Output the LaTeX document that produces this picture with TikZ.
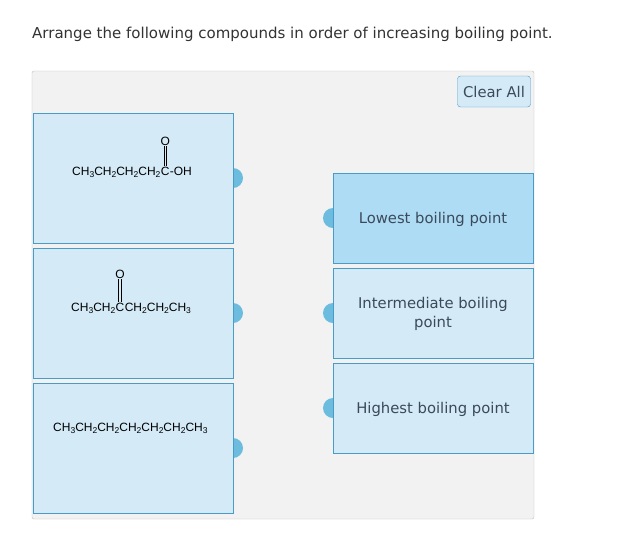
\documentclass[tikz,border=0pt]{standalone}
\usepackage{fontspec}
\setmainfont{DejaVu Sans}
\newfontfamily\chemf{Liberation Sans}
\newcommand{\sbs}[1]{\raisebox{-0.35ex}{\fontsize{8.5}{8.5}\selectfont #1}}
\definecolor{txt}{HTML}{333333}
\definecolor{boxfill}{HTML}{D4EAF7}
\definecolor{boxfillB}{HTML}{AEDCF5}
\definecolor{boxdraw}{HTML}{4A9CC8}
\definecolor{tabc}{HTML}{6CBCE0}
\definecolor{labc}{HTML}{3B4A5A}
\begin{document}
\begin{tikzpicture}[x=1pt,y=-1pt,
  card/.style={draw=boxdraw,fill=boxfill,line width=0.8pt},
  tab/.style={fill=tabc},
  lab/.style={font=\fontsize{14.8}{19}\selectfont,text=labc,align=center},
  chem/.style={font=\chemf\fontsize{12}{13}\selectfont,inner sep=0pt,anchor=base west}]
\useasboundingbox (0,0) rectangle (644,542);
\fill[white] (0,0) rectangle (644,542);
\node[anchor=base west,inner sep=0,text=txt,font=\fontsize{15}{18}\selectfont] (title) at (32,38) {Arrange the following compounds in order of increasing boiling point.};
\draw[draw=gray!50,fill=black!5,rounded corners=2pt] (32,71) rectangle (534,519);
\node[draw=boxdraw,fill=boxfill,rounded corners=3pt,minimum width=73pt,minimum height=31pt,lab,inner sep=0] (clear) at (494,91.5) {Clear All};
\foreach \y in {178,313,448}{\fill[tab] (233,\y) circle (10);}
\foreach \y in {218,313,408}{\fill[tab] (333,\y) circle (10);}
\draw[card] (33,113) rectangle (233,243);
\draw[card] (33,248) rectangle (233,378);
\draw[card] (33,383) rectangle (233,513);
\draw[card,fill=boxfillB] (333,173) rectangle (533,263);
\draw[card] (333,268) rectangle (533,358);
\draw[card] (333,363) rectangle (533,453);
\node[lab] (low) at (433,219) {Lowest boiling point};
\node[lab] (mid) at (433,314) {Intermediate boiling\\point};
\node[lab] (high) at (433,409) {Highest boiling point};
% compound 1
\node[chem] (a1) at (72,175) {CH\sbs{3}CH\sbs{2}CH\sbs{2}CH\sbs{2}};
\node[chem] (c1) at (a1.base east) {C};
\node[chem] (r1) at (c1.base east) {-OH};
\node[chem,anchor=base] (o1) at ([yshift=30]c1.base) {O};
\draw[line width=0.6pt] ([xshift=-1.3,yshift=-1]o1.south) -- ([xshift=-1.3]c1.north) ([xshift=1.3,yshift=-1]o1.south) -- ([xshift=1.3]c1.north);
% compound 2
\node[chem] (a2) at (71,311) {CH\sbs{3}CH\sbs{2}};
\node[chem] (c2) at (a2.base east) {C};
\node[chem] (r2) at (c2.base east) {CH\sbs{2}CH\sbs{2}CH\sbs{3}};
\node[chem,anchor=base] (o2) at ([yshift=33]c2.base) {O};
\draw[line width=0.6pt] ([xshift=-1.3,yshift=-1]o2.south) -- ([xshift=-1.3]c2.north) ([xshift=1.3,yshift=-1]o2.south) -- ([xshift=1.3]c2.north);
% compound 3
\node[chem] (a3) at (53,431) {CH\sbs{3}CH\sbs{2}CH\sbs{2}CH\sbs{2}CH\sbs{2}CH\sbs{2}CH\sbs{3}};
\end{tikzpicture}
\end{document}
